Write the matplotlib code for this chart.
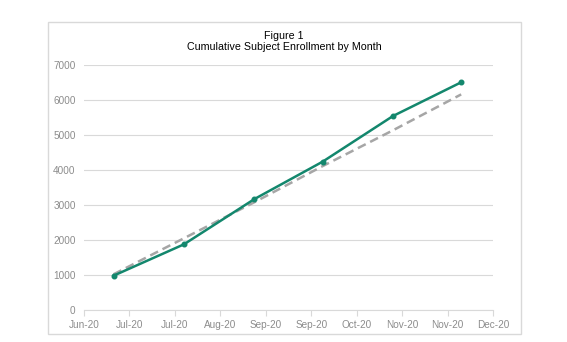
import matplotlib
matplotlib.use("Agg")
import matplotlib.pyplot as plt
import matplotlib.dates as mdates
from matplotlib.patches import Rectangle
import datetime as dt

plt.rcParams['font.family'] = ['Liberation Sans', 'DejaVu Sans']

months = ["2020-07-01", "2020-08-01", "2020-09-01", "2020-10-01", "2020-11-01", "2020-12-01"]
actual = [980, 1877, 3170, 4237, 5543, 6506]
target = [1020, 2050, 3080, 4110, 5135, 6160]
title_lines = ["Figure 1", "Cumulative Subject Enrollment by Month"]
y_ticks = [0, 1000, 2000, 3000, 4000, 5000, 6000, 7000]

dates = [dt.datetime.strptime(m, "%Y-%m-%d") for m in months]

fig = plt.figure(figsize=(5.67, 3.42), dpi=100)
fig.patch.set_facecolor("white")

# chart border
fig.patches.append(Rectangle((48/567, 1-334/342), (521-48)/567, (334-22)/342,
                             transform=fig.transFigure, fill=False,
                             edgecolor="#d9d9d9", linewidth=1.0))

ax = fig.add_axes([84/567, 1-310/342, (493-84)/567, (310-65)/342])

ax.plot(dates, target, color="#a6a6a6", linewidth=1.8, linestyle=(0, (3.5, 2.0)), zorder=2)
ax.plot(dates, actual, color="#13876d", linewidth=1.8, marker="o", markersize=3.3, zorder=3)

ax.set_ylim(0, 7000)
ax.set_yticks(y_ticks)
start = dt.datetime(2020, 6, 18)
xticks = [start + dt.timedelta(days=20 * i) for i in range(10)]
ax.set_xlim(xticks[0], xticks[-1])
ax.set_xticks(xticks)
ax.xaxis.set_major_formatter(mdates.DateFormatter("%b-%y"))

ax.grid(axis="y", color="#d9d9d9", linewidth=0.8)
ax.set_axisbelow(True)
for s in ["top", "right", "left"]:
    ax.spines[s].set_visible(False)
ax.spines["bottom"].set_color("#d9d9d9")
ax.spines["bottom"].set_linewidth(0.8)
ax.tick_params(axis="y", length=0, colors="#8c8c8c", labelsize=7.2, pad=6)
ax.tick_params(axis="x", length=4, color="#d9d9d9", width=0.8, labelcolor="#8c8c8c", labelsize=7.2, pad=3)

fig.text(284/567, 1-36/342, title_lines[0], ha="center", va="center", fontsize=7.7, color="black")
fig.text(284/567, 1-47/342, title_lines[1], ha="center", va="center", fontsize=7.7, color="black")

fig.savefig("out.png", dpi=100, facecolor="white")
